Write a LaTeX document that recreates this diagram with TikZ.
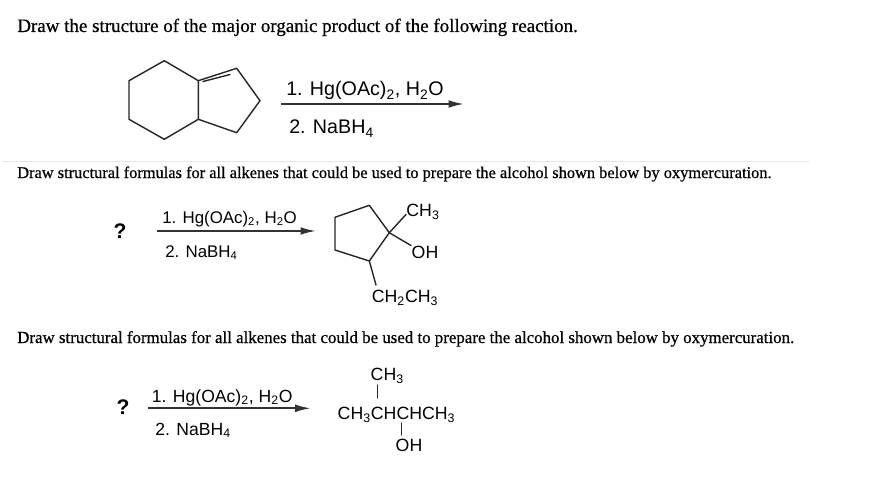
\documentclass[tikz,border=0pt]{standalone}
\usepackage{fontspec}
\setmainfont[FakeBold=0.6]{Liberation Serif}
\setsansfont{Liberation Sans}
\usetikzlibrary{arrows.meta}
\tikzstyle{heading} = [anchor=base west, inner sep=0pt]
\tikzstyle{reagent} = [anchor=base west, inner sep=0pt, font=\fontsize{12}{14}\sffamily\selectfont]
\tikzstyle{atom} = [inner sep=0pt, font=\fontsize{12.6}{14}\sffamily\selectfont]
\tikzstyle{unknown} = [inner sep=0pt, font=\fontsize{15}{17}\sffamily\bfseries\selectfont]
\tikzstyle{bond} = [draw, line width=1pt, color=black!85, line cap=round, line join=round]
\tikzstyle{arrow} = [draw, line width=1.3pt, color=black!80, -{Latex[length=11pt,width=5.5pt]}]
\tikzstyle{rule} = [draw, line width=0.5pt, color=black!10]
\begin{document}
\begin{tikzpicture}[x=0.025cm,y=-0.025cm]
\useasboundingbox (0,0) rectangle (880,492);
\node (h1) [heading,font=\fontsize{13.5}{15}\selectfont] at (17,32) {Draw the structure of the major organic product of the following reaction.};
\coordinate (l1) at (2,161);
\coordinate (l2) at (809,161);
\path [rule] (l1) -- (l2);
\node (h2) [heading,font=\fontsize{11.65}{13}\selectfont] at (17,178) {Draw structural formulas for all alkenes that could be used to prepare the alcohol shown below by oxymercuration.};
\node (h3) [heading,font=\fontsize{12}{13}\selectfont] at (17,343) {Draw structural formulas for all alkenes that could be used to prepare the alcohol shown below by oxymercuration.};

% first reaction
\coordinate (a1) at (164.3,60.7);
\coordinate (a2) at (129,80.7);
\coordinate (a3) at (129,119.3);
\coordinate (a4) at (164.3,139.3);
\coordinate (a5) at (198.3,119.3);
\coordinate (a6) at (198.3,80.7);
\coordinate (a7) at (236.7,68.3);
\coordinate (a8) at (260,100.7);
\coordinate (a9) at (236.7,132.7);
\coordinate (a10) at (203,81.5);
\coordinate (a11) at (230,74.5);
\path [bond] (a1) -- (a2) -- (a3) -- (a4) -- (a5) -- (a6) -- (a1);
\path [bond] (a6) -- (a7) -- (a8) -- (a9) -- (a5);
\path [bond] (a10) -- (a11);
\coordinate (s1) at (281,104);
\coordinate (e1) at (464,104);
\path [arrow] (s1) -- (e1);
\node (r1) [reagent,font=\fontsize{14}{16}\sffamily\selectfont] at (286,96) {1. Hg(OAc)\textsubscript{2}, H\textsubscript{2}O};
\node (n1) [reagent,font=\fontsize{14}{16}\sffamily\selectfont] at (289,134) {2. NaBH\textsubscript{4}};

% second reaction
\node (q2) [unknown] at (120,231) {?};
\coordinate (s2) at (157.3,231);
\coordinate (e2) at (316,231);
\path [arrow] (s2) -- (e2);
\node (r2) [reagent] at (162,223) {1. Hg(OAc)\textsubscript{2}, H\textsubscript{2}O};
\node (n2) [reagent] at (165,257) {2. NaBH\textsubscript{4}};
\coordinate (b1) at (335,217.3);
\coordinate (b2) at (369.3,205.3);
\coordinate (b3) at (389.3,232.7);
\coordinate (b4) at (369.3,261);
\coordinate (b5) at (335,250);
\path [bond] (b1) -- (b2) -- (b3) -- (b4) -- (b5) -- (b1);
\node (c1) [atom] at (423,212) {CH\textsubscript{3}};
\node (o1) [atom] at (425,252) {OH};
\node (c2) [atom] at (405,298) {CH\textsubscript{2}CH\textsubscript{3}};
\coordinate (t1) at (406,214.5);
\coordinate (t2) at (411,245.5);
\coordinate (t3) at (376,285);
\path [bond] (b3) -- (t1);
\path [bond] (b3) -- (t2);
\path [bond] (b4) -- (t3);

% third reaction
\node (q3) [unknown] at (123,407) {?};
\coordinate (s3) at (147.7,408.3);
\coordinate (e3) at (310.7,408.3);
\path [arrow] (s3) -- (e3);
\node (r3) [reagent,font=\fontsize{12.5}{14}\sffamily\selectfont] at (151.5,402) {1. Hg(OAc)\textsubscript{2}, H\textsubscript{2}O};
\node (n3) [reagent,font=\fontsize{12.5}{14}\sffamily\selectfont] at (155,435) {2. NaBH\textsubscript{4}};
\node (c3) [atom] at (396.5,415) {CH\textsubscript{3}CHCHCH\textsubscript{3}};
\node (c4) [atom] at (387.3,375.7) {CH\textsubscript{3}};
\node (o2) [atom] at (409,445.7) {OH};
\coordinate (u1) at (377.3,385);
\coordinate (u2) at (377.3,398);
\coordinate (u3) at (401.7,423);
\coordinate (u4) at (401.7,435);
\path [bond] (u1) -- (u2);
\path [bond] (u3) -- (u4);
\end{tikzpicture}
\end{document}
